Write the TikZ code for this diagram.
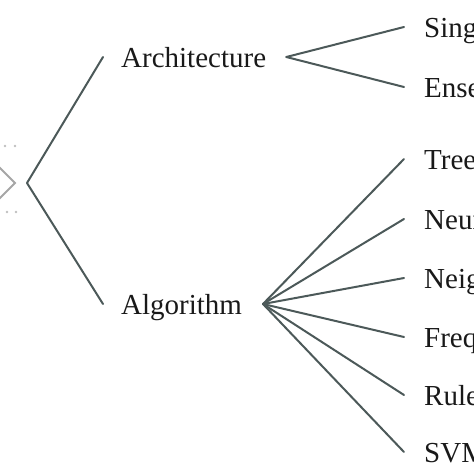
\documentclass[tikz,border=0pt]{standalone}
\usepackage{fontspec}
\setmainfont{Liberation Serif}
\begin{document}
\begin{tikzpicture}[x=1pt,y=-1pt,
  lbl/.style={anchor=base west,inner sep=0pt,text height=20pt,text depth=0pt,
    font=\fontsize{29}{34}\selectfont,text=black!90},
  conn/.style={draw=black!75!teal!40!gray,line width=2pt,line cap=round,line join=round},
  ghost/.style={draw=black!35,line width=2pt},
  gdot/.style={fill=black!25,draw=none}]
\useasboundingbox (0,0) rectangle (474,474);
\clip (0,0) rectangle (474,474);
% partial gray diamond and dots at the left edge
\draw[ghost] (-1,167) -- (15,183) -- (-1,199);
\foreach \p in {(5,146),(15,146),(7,212),(16,212)} \fill[gdot] \p circle (1.3);
% nodes
\coordinate (root) at (27,183);
\node[lbl] (arch) at (121,67) {Architecture};
\node[lbl] (alg)  at (121,314) {Algorithm};
\node[lbl] (sing) at (424,37)  {Single};
\node[lbl] (ens)  at (424,97)  {Ensemble};
\node[lbl] (tree) at (424,169) {Tree};
\node[lbl] (neur) at (424,229) {Neural};
\node[lbl] (neig) at (424,288) {Neighbor};
\node[lbl] (freq) at (424,347) {Frequency};
\node[lbl] (rule) at (424,405) {Rule};
\node[lbl] (svm)  at (424,462) {SVM};
% connectors
\path[conn] ([xshift=-18pt]arch.west) -- (root) -- ([xshift=-18pt]alg.west);
\coordinate (archR) at ([xshift=20pt]arch.east);
\coordinate (algR) at (263,304);
\foreach \t in {sing,ens} \path[conn] (archR) -- ([xshift=-20pt]\t.west);
\foreach \t in {tree,neur,neig,freq,rule,svm} \path[conn] (algR) -- ([xshift=-20pt]\t.west);
\end{tikzpicture}
\end{document}
